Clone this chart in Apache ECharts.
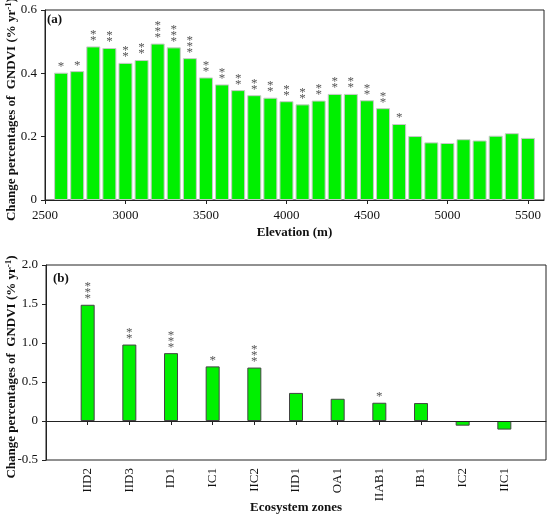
<!DOCTYPE html>
<html>
<head>
<meta charset="utf-8">
<script src="https://cdn.jsdelivr.net/npm/echarts@6/dist/echarts.min.js"></script>
<style>
    html, body { margin: 0; padding: 0; background: #fff; }
    #chart { width: 550px; height: 515px; }
</style>
</head>
<body>
<div id="chart"></div>
<script>
// panel (a): change by elevation band
const elevations = [2600, 2700, 2800, 2900, 3000, 3100, 3200, 3300, 3400, 3500,
    3600, 3700, 3800, 3900, 4000, 4100, 4200, 4300, 4400, 4500,
    4600, 4700, 4800, 4900, 5000, 5100, 5200, 5300, 5400, 5500];
const elevValues = [0.402, 0.407, 0.485, 0.480, 0.433, 0.442, 0.494, 0.482, 0.448, 0.387,
    0.365, 0.347, 0.331, 0.323, 0.312, 0.302, 0.314, 0.335, 0.335, 0.315,
    0.290, 0.240, 0.202, 0.182, 0.180, 0.192, 0.188, 0.203, 0.211, 0.196];
const elevStars = ['*', '*', '**', '**', '**', '**', '***', '***', '***', '**',
    '**', '**', '**', '**', '**', '**', '**', '**', '**', '**',
    '**', '*', '', '', '', '', '', '', '', ''];
const elevTicks = [2500, 3000, 3500, 4000, 4500, 5000, 5500];

// panel (b): change by ecosystem zone
const zones = ['IID2', 'IID3', 'ID1', 'IC1', 'IIC2', 'IID1', 'OA1', 'IIAB1', 'IB1', 'IC2', 'IIC1'];
const zoneValues = [1.49, 0.98, 0.87, 0.70, 0.685, 0.36, 0.285, 0.234, 0.23, -0.06, -0.11];
const zoneStars = ['***', '**', '***', '*', '***', '', '', '*', '', '', ''];
const zoneTicks = [1, 2, 3, 4, 5, 6, 7, 8, 9, 10, 11];

const serif = '"Liberation Serif", "DejaVu Serif", serif';
const ink = '#222';

function numLabel(v) {
    return v === 0 ? '0' : v.toFixed(1);
}

function starLabel(stars) {
    return {
        show: true,
        position: 'top',
        distance: 3,
        fontFamily: serif,
        fontSize: 13,
        lineHeight: 6,
        color: '#555',
        formatter: function (p) {
            return stars[p.dataIndex].split('').join('\n');
        }
    };
}

const yName = 'Change percentages of  GNDVI (% yr{sup|-1})';
const yNameStyle = {
    fontFamily: serif,
    fontWeight: 'bold',
    fontSize: 13,
    color: '#111',
    padding: [0, 9, 0, 0], // nudges the rotated name a little down the page
    rich: {
        sup: { fontFamily: serif, fontWeight: 'bold', fontSize: 9, color: '#111', verticalAlign: 'top', padding: [0, 0, 6, 0] }
    }
};
const nameStyle = { fontFamily: serif, fontWeight: 'bold', fontSize: 13, color: '#111' };

const axisLine = { show: true, lineStyle: { color: ink, width: 1 } };
const axisTick = { show: true, inside: false, length: 4, lineStyle: { color: ink } };
const axisLabel = { fontFamily: serif, fontSize: 13, color: '#111' };

document.addEventListener("DOMContentLoaded", function () {
    let chart = echarts.init(document.getElementById('chart'), null, { renderer: 'canvas' });

    let option = {
        animation: false,
        backgroundColor: '#fff',
        title: [
            { text: '(a)', left: 47, top: 13, padding: 0, textStyle: nameStyle },
            { text: '(b)', left: 53, top: 272, padding: 0, textStyle: nameStyle },
        ],
        grid: [
            { left: 45, right: 6, top: 10, height: 190, show: true, borderColor: ink, borderWidth: 1, outerBoundsMode: 'none' },
            { left: 46, right: 4, top: 265, height: 195, show: true, borderColor: ink, borderWidth: 1, outerBoundsMode: 'none' },
        ],
        xAxis: [
            {
                gridIndex: 0,
                type: 'value',
                min: 2500,
                max: 5600,
                interval: 500,
                splitLine: { show: false },
                axisLine: axisLine,
                axisTick: Object.assign({}, axisTick, { customValues: elevTicks }),
                axisLabel: Object.assign({}, axisLabel, {
                    customValues: elevTicks,
                    margin: 9,
                    formatter: function (v) { return String(v); }
                }),
                name: 'Elevation (m)',
                nameLocation: 'middle',
                nameGap: 26,
                nameMoveOverlap: false,
                nameTextStyle: nameStyle,
            },
            {
                gridIndex: 1,
                type: 'value',
                min: 0,
                max: 12,
                interval: 1,
                splitLine: { show: false },
                axisLine: axisLine,
                axisTick: Object.assign({}, axisTick, { customValues: zoneTicks }),
                axisLabel: Object.assign({}, axisLabel, {
                    customValues: zoneTicks,
                    rotate: 90,
                    margin: 8,
                    formatter: function (v) { return zones[v - 1] || ''; }
                }),
                name: 'Ecosystem zones',
                nameLocation: 'middle',
                nameGap: 41,
                nameMoveOverlap: false,
                nameTextStyle: nameStyle,
            },
        ],
        yAxis: [
            {
                gridIndex: 0,
                type: 'value',
                min: 0,
                max: 0.6,
                interval: 0.2,
                splitLine: { show: false },
                axisLine: axisLine,
                axisTick: axisTick,
                axisLabel: Object.assign({}, axisLabel, { formatter: numLabel, margin: 8 }),
                name: yName,
                nameLocation: 'middle',
                nameGap: 26,
                nameMoveOverlap: false,
                nameTextStyle: yNameStyle,
            },
            {
                gridIndex: 1,
                type: 'value',
                min: -0.5,
                max: 2.0,
                interval: 0.5,
                splitLine: { show: false },
                axisLine: axisLine,
                axisTick: axisTick,
                axisLabel: Object.assign({}, axisLabel, { formatter: numLabel, margin: 8 }),
                name: yName,
                nameLocation: 'middle',
                nameGap: 27,
                nameMoveOverlap: false,
                nameTextStyle: yNameStyle,
            },
        ],
        series: [
            {
                type: 'bar',
                xAxisIndex: 0,
                yAxisIndex: 0,
                barWidth: 14,
                data: elevations.map((e, i) => [e, elevValues[i]]),
                itemStyle: { color: '#00f000', borderColor: '#c8c8c8', borderWidth: 1 },
                label: starLabel(elevStars),
            },
            {
                type: 'bar',
                xAxisIndex: 1,
                yAxisIndex: 1,
                barWidth: 14,
                data: zones.map((z, i) => [zoneTicks[i], zoneValues[i]]),
                itemStyle: { color: '#00f000', borderColor: '#444', borderWidth: 1 },
                label: starLabel(zoneStars),
                markLine: {
                    silent: true,
                    symbol: 'none',
                    label: { show: false },
                    lineStyle: { color: ink, width: 1, type: 'solid' },
                    data: [{ yAxis: 0 }],
                },
            },
        ],
    };
    chart.setOption(option);
});
</script>
</body>
</html>
